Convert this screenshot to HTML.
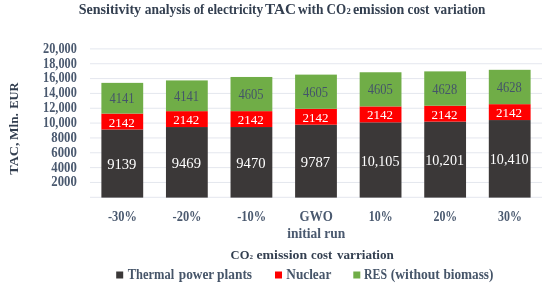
<!DOCTYPE html>
<html><head><meta charset="utf-8"><title>chart</title>
<style>
html,body{margin:0;padding:0;background:#fff;}
svg{display:block;font-family:"Liberation Serif",serif;}
.t{fill:#44546a;}
.b{font-weight:bold;}
</style></head><body>
<svg width="550" height="291" viewBox="0 0 550 291">
<rect width="550" height="291" fill="#fff"/>

<line x1="90.0" x2="542.0" y1="197.30" y2="197.30" stroke="#e4e7ee" stroke-width="1"/>
<line x1="90.0" x2="542.0" y1="182.46" y2="182.46" stroke="#e4e7ee" stroke-width="1"/>
<line x1="90.0" x2="542.0" y1="167.62" y2="167.62" stroke="#e4e7ee" stroke-width="1"/>
<line x1="90.0" x2="542.0" y1="152.78" y2="152.78" stroke="#e4e7ee" stroke-width="1"/>
<line x1="90.0" x2="542.0" y1="137.94" y2="137.94" stroke="#e4e7ee" stroke-width="1"/>
<line x1="90.0" x2="542.0" y1="123.10" y2="123.10" stroke="#e4e7ee" stroke-width="1"/>
<line x1="90.0" x2="542.0" y1="108.26" y2="108.26" stroke="#e4e7ee" stroke-width="1"/>
<line x1="90.0" x2="542.0" y1="93.42" y2="93.42" stroke="#e4e7ee" stroke-width="1"/>
<line x1="90.0" x2="542.0" y1="78.58" y2="78.58" stroke="#e4e7ee" stroke-width="1"/>
<line x1="90.0" x2="542.0" y1="63.74" y2="63.74" stroke="#e4e7ee" stroke-width="1"/>
<line x1="90.0" x2="542.0" y1="48.90" y2="48.90" stroke="#e4e7ee" stroke-width="1"/>
<text x="76.80" y="186.36" font-size="13.7" fill="#4a596f" text-anchor="end" font-weight="bold" textLength="25.5" lengthAdjust="spacingAndGlyphs">2000</text>
<text x="76.80" y="171.52" font-size="13.7" fill="#4a596f" text-anchor="end" font-weight="bold" textLength="25.5" lengthAdjust="spacingAndGlyphs">4000</text>
<text x="76.80" y="156.68" font-size="13.7" fill="#4a596f" text-anchor="end" font-weight="bold" textLength="25.5" lengthAdjust="spacingAndGlyphs">6000</text>
<text x="76.80" y="141.84" font-size="13.7" fill="#4a596f" text-anchor="end" font-weight="bold" textLength="25.5" lengthAdjust="spacingAndGlyphs">8000</text>
<text x="76.80" y="127.00" font-size="13.7" fill="#4a596f" text-anchor="end" font-weight="bold" textLength="33.7" lengthAdjust="spacingAndGlyphs">10,000</text>
<text x="76.80" y="112.16" font-size="13.7" fill="#4a596f" text-anchor="end" font-weight="bold" textLength="33.7" lengthAdjust="spacingAndGlyphs">12,000</text>
<text x="76.80" y="97.32" font-size="13.7" fill="#4a596f" text-anchor="end" font-weight="bold" textLength="33.7" lengthAdjust="spacingAndGlyphs">14,000</text>
<text x="76.80" y="82.48" font-size="13.7" fill="#4a596f" text-anchor="end" font-weight="bold" textLength="33.7" lengthAdjust="spacingAndGlyphs">16,000</text>
<text x="76.80" y="67.64" font-size="13.7" fill="#4a596f" text-anchor="end" font-weight="bold" textLength="33.7" lengthAdjust="spacingAndGlyphs">18,000</text>
<text x="76.80" y="52.80" font-size="13.7" fill="#4a596f" text-anchor="end" font-weight="bold" textLength="33.7" lengthAdjust="spacingAndGlyphs">20,000</text>
<rect x="101.39" y="129.49" width="41.8" height="68.11" fill="#3b3838"/>
<rect x="101.39" y="113.59" width="41.8" height="15.89" fill="#ff0000"/>
<rect x="101.39" y="82.87" width="41.8" height="30.73" fill="#70ad47"/>
<text x="121.79" y="169.09" font-size="15.4" fill="#fff" text-anchor="middle" textLength="29.3" lengthAdjust="spacingAndGlyphs">9139</text>
<text x="121.69" y="126.54" font-size="13.5" fill="#fff" text-anchor="middle" textLength="26" lengthAdjust="spacingAndGlyphs">2142</text>
<text x="121.89" y="103.33" font-size="13.9" fill="#44546a" text-anchor="middle" textLength="25" lengthAdjust="spacingAndGlyphs">4141</text>
<text x="122.49" y="221.30" font-size="14.1" fill="#4a596f" text-anchor="middle" font-weight="bold" textLength="29" lengthAdjust="spacingAndGlyphs">-30%</text>
<rect x="165.96" y="127.04" width="41.8" height="70.56" fill="#3b3838"/>
<rect x="165.96" y="111.15" width="41.8" height="15.89" fill="#ff0000"/>
<rect x="165.96" y="80.42" width="41.8" height="30.73" fill="#70ad47"/>
<text x="186.36" y="167.87" font-size="15.4" fill="#fff" text-anchor="middle" textLength="29.3" lengthAdjust="spacingAndGlyphs">9469</text>
<text x="186.26" y="124.09" font-size="13.5" fill="#fff" text-anchor="middle" textLength="26" lengthAdjust="spacingAndGlyphs">2142</text>
<text x="186.46" y="100.88" font-size="13.9" fill="#44546a" text-anchor="middle" textLength="25" lengthAdjust="spacingAndGlyphs">4141</text>
<text x="187.06" y="221.30" font-size="14.1" fill="#4a596f" text-anchor="middle" font-weight="bold" textLength="29" lengthAdjust="spacingAndGlyphs">-20%</text>
<rect x="230.53" y="127.03" width="41.8" height="70.57" fill="#3b3838"/>
<rect x="230.53" y="111.14" width="41.8" height="15.89" fill="#ff0000"/>
<rect x="230.53" y="76.97" width="41.8" height="34.17" fill="#70ad47"/>
<text x="250.93" y="167.87" font-size="15.4" fill="#fff" text-anchor="middle" textLength="29.3" lengthAdjust="spacingAndGlyphs">9470</text>
<text x="250.83" y="124.09" font-size="13.5" fill="#fff" text-anchor="middle" textLength="26" lengthAdjust="spacingAndGlyphs">2142</text>
<text x="251.03" y="99.15" font-size="13.9" fill="#44546a" text-anchor="middle" textLength="25" lengthAdjust="spacingAndGlyphs">4605</text>
<text x="251.63" y="221.30" font-size="14.1" fill="#4a596f" text-anchor="middle" font-weight="bold" textLength="29" lengthAdjust="spacingAndGlyphs">-10%</text>
<rect x="295.10" y="124.68" width="41.8" height="72.92" fill="#3b3838"/>
<rect x="295.10" y="108.79" width="41.8" height="15.89" fill="#ff0000"/>
<rect x="295.10" y="74.62" width="41.8" height="34.17" fill="#70ad47"/>
<text x="315.50" y="166.69" font-size="15.4" fill="#fff" text-anchor="middle" textLength="29.3" lengthAdjust="spacingAndGlyphs">9787</text>
<text x="315.40" y="121.73" font-size="13.5" fill="#fff" text-anchor="middle" textLength="26" lengthAdjust="spacingAndGlyphs">2142</text>
<text x="315.60" y="96.80" font-size="13.9" fill="#44546a" text-anchor="middle" textLength="25" lengthAdjust="spacingAndGlyphs">4605</text>
<text x="316.20" y="221.30" font-size="14.1" fill="#4a596f" text-anchor="middle" font-weight="bold" textLength="33.2" lengthAdjust="spacingAndGlyphs">GWO</text>
<text x="316.30" y="237.80" font-size="14" fill="#4a596f" text-anchor="middle" font-weight="bold" textLength="58" lengthAdjust="spacingAndGlyphs">initial run</text>
<rect x="359.67" y="122.32" width="41.8" height="75.28" fill="#3b3838"/>
<rect x="359.67" y="106.43" width="41.8" height="15.89" fill="#ff0000"/>
<rect x="359.67" y="72.26" width="41.8" height="34.17" fill="#70ad47"/>
<text x="380.07" y="165.51" font-size="15.4" fill="#fff" text-anchor="middle" textLength="38.8" lengthAdjust="spacingAndGlyphs">10,105</text>
<text x="379.97" y="119.37" font-size="13.5" fill="#fff" text-anchor="middle" textLength="26" lengthAdjust="spacingAndGlyphs">2142</text>
<text x="380.17" y="94.44" font-size="13.9" fill="#44546a" text-anchor="middle" textLength="25" lengthAdjust="spacingAndGlyphs">4605</text>
<text x="380.77" y="221.30" font-size="14.1" fill="#4a596f" text-anchor="middle" font-weight="bold" textLength="23.8" lengthAdjust="spacingAndGlyphs">10%</text>
<rect x="424.24" y="121.61" width="41.8" height="75.99" fill="#3b3838"/>
<rect x="424.24" y="105.71" width="41.8" height="15.89" fill="#ff0000"/>
<rect x="424.24" y="71.38" width="41.8" height="34.34" fill="#70ad47"/>
<text x="444.64" y="165.15" font-size="15.4" fill="#fff" text-anchor="middle" textLength="38.8" lengthAdjust="spacingAndGlyphs">10,201</text>
<text x="444.54" y="118.66" font-size="13.5" fill="#fff" text-anchor="middle" textLength="26" lengthAdjust="spacingAndGlyphs">2142</text>
<text x="444.74" y="93.65" font-size="13.9" fill="#44546a" text-anchor="middle" textLength="25" lengthAdjust="spacingAndGlyphs">4628</text>
<text x="445.34" y="221.30" font-size="14.1" fill="#4a596f" text-anchor="middle" font-weight="bold" textLength="23.8" lengthAdjust="spacingAndGlyphs">20%</text>
<rect x="488.81" y="120.06" width="41.8" height="77.54" fill="#3b3838"/>
<rect x="488.81" y="104.16" width="41.8" height="15.89" fill="#ff0000"/>
<rect x="488.81" y="69.82" width="41.8" height="34.34" fill="#70ad47"/>
<text x="509.21" y="164.38" font-size="15.4" fill="#fff" text-anchor="middle" textLength="38.8" lengthAdjust="spacingAndGlyphs">10,410</text>
<text x="509.11" y="117.11" font-size="13.5" fill="#fff" text-anchor="middle" textLength="26" lengthAdjust="spacingAndGlyphs">2142</text>
<text x="509.31" y="92.09" font-size="13.9" fill="#44546a" text-anchor="middle" textLength="25" lengthAdjust="spacingAndGlyphs">4628</text>
<text x="509.91" y="221.30" font-size="14.1" fill="#4a596f" text-anchor="middle" font-weight="bold" textLength="23.8" lengthAdjust="spacingAndGlyphs">30%</text>
<text x="78.70" y="13.60" font-size="14" fill="#333f50" text-anchor="start" font-weight="bold" textLength="62.4" lengthAdjust="spacingAndGlyphs">Sensitivity</text>
<text x="144.70" y="13.60" font-size="14" fill="#333f50" text-anchor="start" font-weight="bold" textLength="45.8" lengthAdjust="spacingAndGlyphs">analysis</text>
<text x="193.70" y="13.60" font-size="14" fill="#333f50" text-anchor="start" font-weight="bold" textLength="10.6" lengthAdjust="spacingAndGlyphs">of</text>
<text x="207.60" y="13.60" font-size="14" fill="#333f50" text-anchor="start" font-weight="bold" textLength="55.4" lengthAdjust="spacingAndGlyphs">electricity</text>
<text x="265.10" y="13.60" font-size="14" fill="#333f50" text-anchor="start" font-weight="bold" textLength="31" lengthAdjust="spacingAndGlyphs">TAC</text>
<text x="298.00" y="13.60" font-size="14" fill="#333f50" text-anchor="start" font-weight="bold" textLength="25.4" lengthAdjust="spacingAndGlyphs">with</text>
<text x="326.50" y="13.60" font-size="14" fill="#333f50" text-anchor="start" font-weight="bold" textLength="19.6" lengthAdjust="spacingAndGlyphs">CO</text>
<text x="352.90" y="13.60" font-size="14" fill="#333f50" text-anchor="start" font-weight="bold" textLength="51.4" lengthAdjust="spacingAndGlyphs">emission</text>
<text x="407.60" y="13.60" font-size="14" fill="#333f50" text-anchor="start" font-weight="bold" textLength="21.8" lengthAdjust="spacingAndGlyphs">cost</text>
<text x="434.00" y="13.60" font-size="14" fill="#333f50" text-anchor="start" font-weight="bold" textLength="51.4" lengthAdjust="spacingAndGlyphs">variation</text>
<text x="346.40" y="13.60" font-size="7.6" fill="#333f50" text-anchor="start" font-weight="bold" textLength="4.3" lengthAdjust="spacingAndGlyphs">2</text>
<text x="230.60" y="259.00" font-size="13.4" fill="#333f50" text-anchor="start" font-weight="bold" textLength="18.8" lengthAdjust="spacingAndGlyphs">CO</text>
<text x="256.50" y="259.00" font-size="13.4" fill="#333f50" text-anchor="start" font-weight="bold" textLength="50.6" lengthAdjust="spacingAndGlyphs">emission</text>
<text x="311.00" y="259.00" font-size="13.4" fill="#333f50" text-anchor="start" font-weight="bold" textLength="21.2" lengthAdjust="spacingAndGlyphs">cost</text>
<text x="337.00" y="259.00" font-size="13.4" fill="#333f50" text-anchor="start" font-weight="bold" textLength="56.8" lengthAdjust="spacingAndGlyphs">varriation</text>
<text x="249.60" y="259.10" font-size="6.2" fill="#333f50" text-anchor="start" font-weight="bold" textLength="3.5" lengthAdjust="spacingAndGlyphs">2</text>
<text transform="translate(18,174.7) rotate(-90)" font-size="13.3" font-weight="bold" fill="#333f50" textLength="32.2" lengthAdjust="spacingAndGlyphs">TAC,</text>
<text transform="translate(18,140.1) rotate(-90)" font-size="13.3" font-weight="bold" fill="#333f50" textLength="27" lengthAdjust="spacingAndGlyphs">Mln.</text>
<text transform="translate(18,108.7) rotate(-90)" font-size="13.3" font-weight="bold" fill="#333f50" textLength="26.2" lengthAdjust="spacingAndGlyphs">EUR</text>
<rect x="116.2" y="271.5" width="7" height="7" fill="#3b3838"/>
<rect x="275" y="271.5" width="7" height="7" fill="#ff0000"/>
<rect x="353.3" y="271.5" width="7" height="7" fill="#70ad47"/>
<text x="127.80" y="278.60" font-size="13.9" fill="#465569" text-anchor="start" font-weight="bold" textLength="46.4" lengthAdjust="spacingAndGlyphs">Thermal</text>
<text x="178.80" y="278.60" font-size="13.9" fill="#465569" text-anchor="start" font-weight="bold" textLength="35.4" lengthAdjust="spacingAndGlyphs">power</text>
<text x="217.10" y="278.60" font-size="13.9" fill="#465569" text-anchor="start" font-weight="bold" textLength="35" lengthAdjust="spacingAndGlyphs">plants</text>
<text x="286.30" y="278.60" font-size="13.9" fill="#465569" text-anchor="start" font-weight="bold" textLength="45" lengthAdjust="spacingAndGlyphs">Nuclear</text>
<text x="364.00" y="278.60" font-size="13.9" fill="#465569" text-anchor="start" font-weight="bold" textLength="23" lengthAdjust="spacingAndGlyphs">RES</text>
<text x="390.80" y="278.60" font-size="13.9" fill="#465569" text-anchor="start" font-weight="bold" textLength="49" lengthAdjust="spacingAndGlyphs">(without</text>
<text x="443.40" y="278.60" font-size="13.9" fill="#465569" text-anchor="start" font-weight="bold" textLength="50" lengthAdjust="spacingAndGlyphs">biomass)</text>
</svg></body></html>
